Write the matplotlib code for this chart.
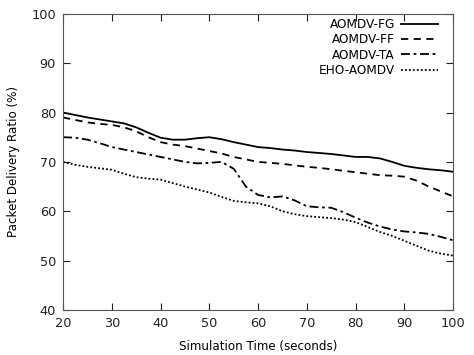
import matplotlib
matplotlib.use("Agg")
import matplotlib.pyplot as plt

# valeurs
time = [20, 22.5, 25, 27.5, 30, 32.5, 35, 37.5, 40, 42.5, 45, 47.5, 50, 52.5, 55, 57.5,
        60, 62.5, 65, 67.5, 70, 72.5, 75, 77.5, 80, 82.5, 85, 87.5, 90, 92.5, 95, 97.5, 100]

fg = [80.0, 79.5, 79.0, 78.6, 78.2, 77.8, 77.0, 75.9, 74.9, 74.5, 74.5, 74.8, 75.0, 74.6, 74.0, 73.5,
      73.0, 72.8, 72.5, 72.3, 72.0, 71.8, 71.6, 71.3, 71.0, 71.0, 70.7, 70.0, 69.2, 68.8, 68.5, 68.3, 68.0]
ff = [79.0, 78.5, 78.0, 77.7, 77.5, 77.0, 76.2, 75.0, 74.0, 73.5, 73.2, 72.7, 72.2, 71.7, 71.0, 70.5,
      70.0, 69.8, 69.6, 69.3, 69.0, 68.8, 68.5, 68.2, 67.9, 67.6, 67.3, 67.2, 67.0, 66.2, 65.0, 64.0, 63.0]
ta = [75.0, 74.9, 74.5, 73.8, 73.0, 72.5, 72.0, 71.5, 71.0, 70.5, 70.0, 69.7, 69.8, 70.0, 68.6, 65.0,
      63.3, 62.8, 63.0, 62.2, 61.0, 60.8, 60.7, 59.8, 58.7, 57.7, 56.9, 56.3, 55.9, 55.7, 55.4, 54.8, 54.1]
eho = [70.0, 69.4, 69.0, 68.7, 68.4, 67.6, 66.9, 66.6, 66.4, 65.7, 65.0, 64.4, 63.8, 62.9, 62.1, 61.8,
       61.6, 61.0, 60.0, 59.4, 59.0, 58.8, 58.6, 58.3, 57.8, 56.8, 55.8, 55.0, 54.0, 53.0, 52.0, 51.4, 51.0]

fig = plt.figure(figsize=(4.74, 3.55), dpi=100)
ax = fig.add_axes([0.133, 0.127, 0.823, 0.834])

ax.plot(time, fg, color='black', linestyle='-', linewidth=1.3, label='AOMDV-FG')
ax.plot(time, ff, color='black', linestyle=(0, (4, 3)), linewidth=1.3, label='AOMDV-FF')
ax.plot(time, ta, color='black', linestyle=(0, (5, 2, 1.5, 2)), linewidth=1.3, label='AOMDV-TA')
ax.plot(time, eho, color='black', linestyle=(0, (1, 1.2)), linewidth=1.3, label='EHO-AOMDV')

ax.set_xlim(20, 100)
ax.set_ylim(40, 100)
ax.set_xticks(range(20, 101, 10))
ax.set_yticks(range(40, 101, 10))
ax.tick_params(direction='in', top=True, right=True, length=5, pad=5,
               labelsize=9.3, colors='#222222')
for s in ax.spines.values():
    s.set_color('#555555')

ax.set_xlabel('Simulation Time (seconds)', fontsize=8.6, labelpad=7)
ax.set_ylabel('Packet Delivery Ratio (%)', fontsize=8.6, labelpad=8)

ax.legend(loc='upper right', bbox_to_anchor=(0.962, 0.985), frameon=False,
          markerfirst=False, fontsize=8.7, handlelength=3.1, labelspacing=0.18,
          borderaxespad=0, handletextpad=0.5, borderpad=0)

plt.savefig('out.png', dpi=100)
